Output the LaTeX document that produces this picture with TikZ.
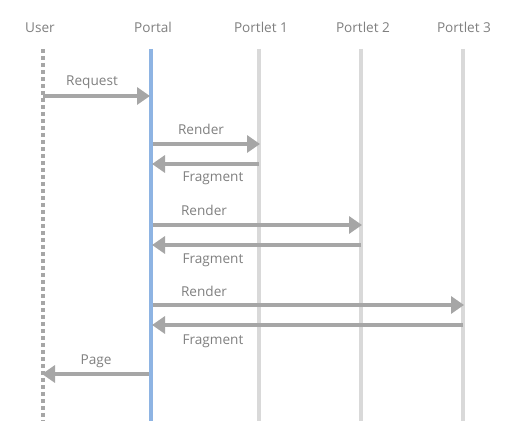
\documentclass[tikz,border=0pt]{standalone}
\usepackage{fontspec}
\setmainfont{Open Sans}
\usetikzlibrary{arrows.meta}
\definecolor{txt}{HTML}{7F7F7F}
\definecolor{arr}{HTML}{A6A6A6}
\definecolor{life}{HTML}{D9D9D9}
\definecolor{portal}{HTML}{8EB4E3}
\tikzset{
  head/.style={text=txt,font=\fontsize{13.6}{16}\selectfont,inner sep=0pt,anchor=base},
  lbl/.style={text=txt,font=\fontsize{13.6}{16}\selectfont,inner sep=0pt,anchor=base},
  lifeline/.style={life,line width=4pt},
  msg/.style={arr,line width=4pt,-{Triangle[length=13pt,width=17pt]},shorten >=-1pt}
}
\begin{document}
\begin{tikzpicture}[x=1pt,y=-1pt]
\useasboundingbox (0,0) rectangle (517,443);
% heads
\node[head] (hU) at (40,33) {User};
\node[head] (hP) at (153,33) {Portal};
\node[head] (h1) at (261,33) {Portlet 1};
\node[head] (h2) at (363,33) {Portlet 2};
\node[head] (h3) at (464,33) {Portlet 3};
% lifeline ends
\coordinate (uT) at (43,49); \coordinate (uB) at (43,421);
\coordinate (pT) at (151,49); \coordinate (pB) at (151,421);
\coordinate (aT) at (259,49); \coordinate (aB) at (259,421);
\coordinate (bT) at (361,49); \coordinate (bB) at (361,421);
\coordinate (cT) at (463,49); \coordinate (cB) at (463,421);
\draw[lifeline] (aT) -- (aB);
\draw[lifeline] (bT) -- (bB);
\draw[lifeline] (cT) -- (cB);
\draw[portal,line width=4pt] (pT) -- (pB);
\draw[arr,line width=4pt,dash pattern=on 4pt off 3pt] (uT) -- (uB);
% message endpoints
\coordinate (rqS) at (43,96);  \coordinate (rqE) at (149,96);
\coordinate (r1S) at (153,144); \coordinate (r1E) at (259,144);
\coordinate (f1S) at (259,164); \coordinate (f1E) at (153,164);
\coordinate (r2S) at (153,225); \coordinate (r2E) at (361,225);
\coordinate (f2S) at (361,245); \coordinate (f2E) at (153,245);
\coordinate (r3S) at (153,305); \coordinate (r3E) at (463,305);
\coordinate (f3S) at (463,325); \coordinate (f3E) at (153,325);
\coordinate (pgS) at (149,374); \coordinate (pgE) at (43,374);
\draw[msg] (rqS) -- (rqE);
\draw[msg] (r1S) -- (r1E);
\draw[msg] (f1S) -- (f1E);
\draw[msg] (r2S) -- (r2E);
\draw[msg] (f2S) -- (f2E);
\draw[msg] (r3S) -- (r3E);
\draw[msg] (f3S) -- (f3E);
\draw[msg] (pgS) -- (pgE);
% labels
\node[lbl] (lrq) at (92,86) {Request};
\node[lbl] (lr1) at (201,135) {Render};
\node[lbl] (lf1) at (213,182) {Fragment};
\node[lbl] (lr2) at (204,216) {Render};
\node[lbl] (lf2) at (213,264) {Fragment};
\node[lbl] (lr3) at (204,297) {Render};
\node[lbl] (lf3) at (213,345) {Fragment};
\node[lbl] (lpg) at (96,365) {Page};
\end{tikzpicture}
\end{document}
